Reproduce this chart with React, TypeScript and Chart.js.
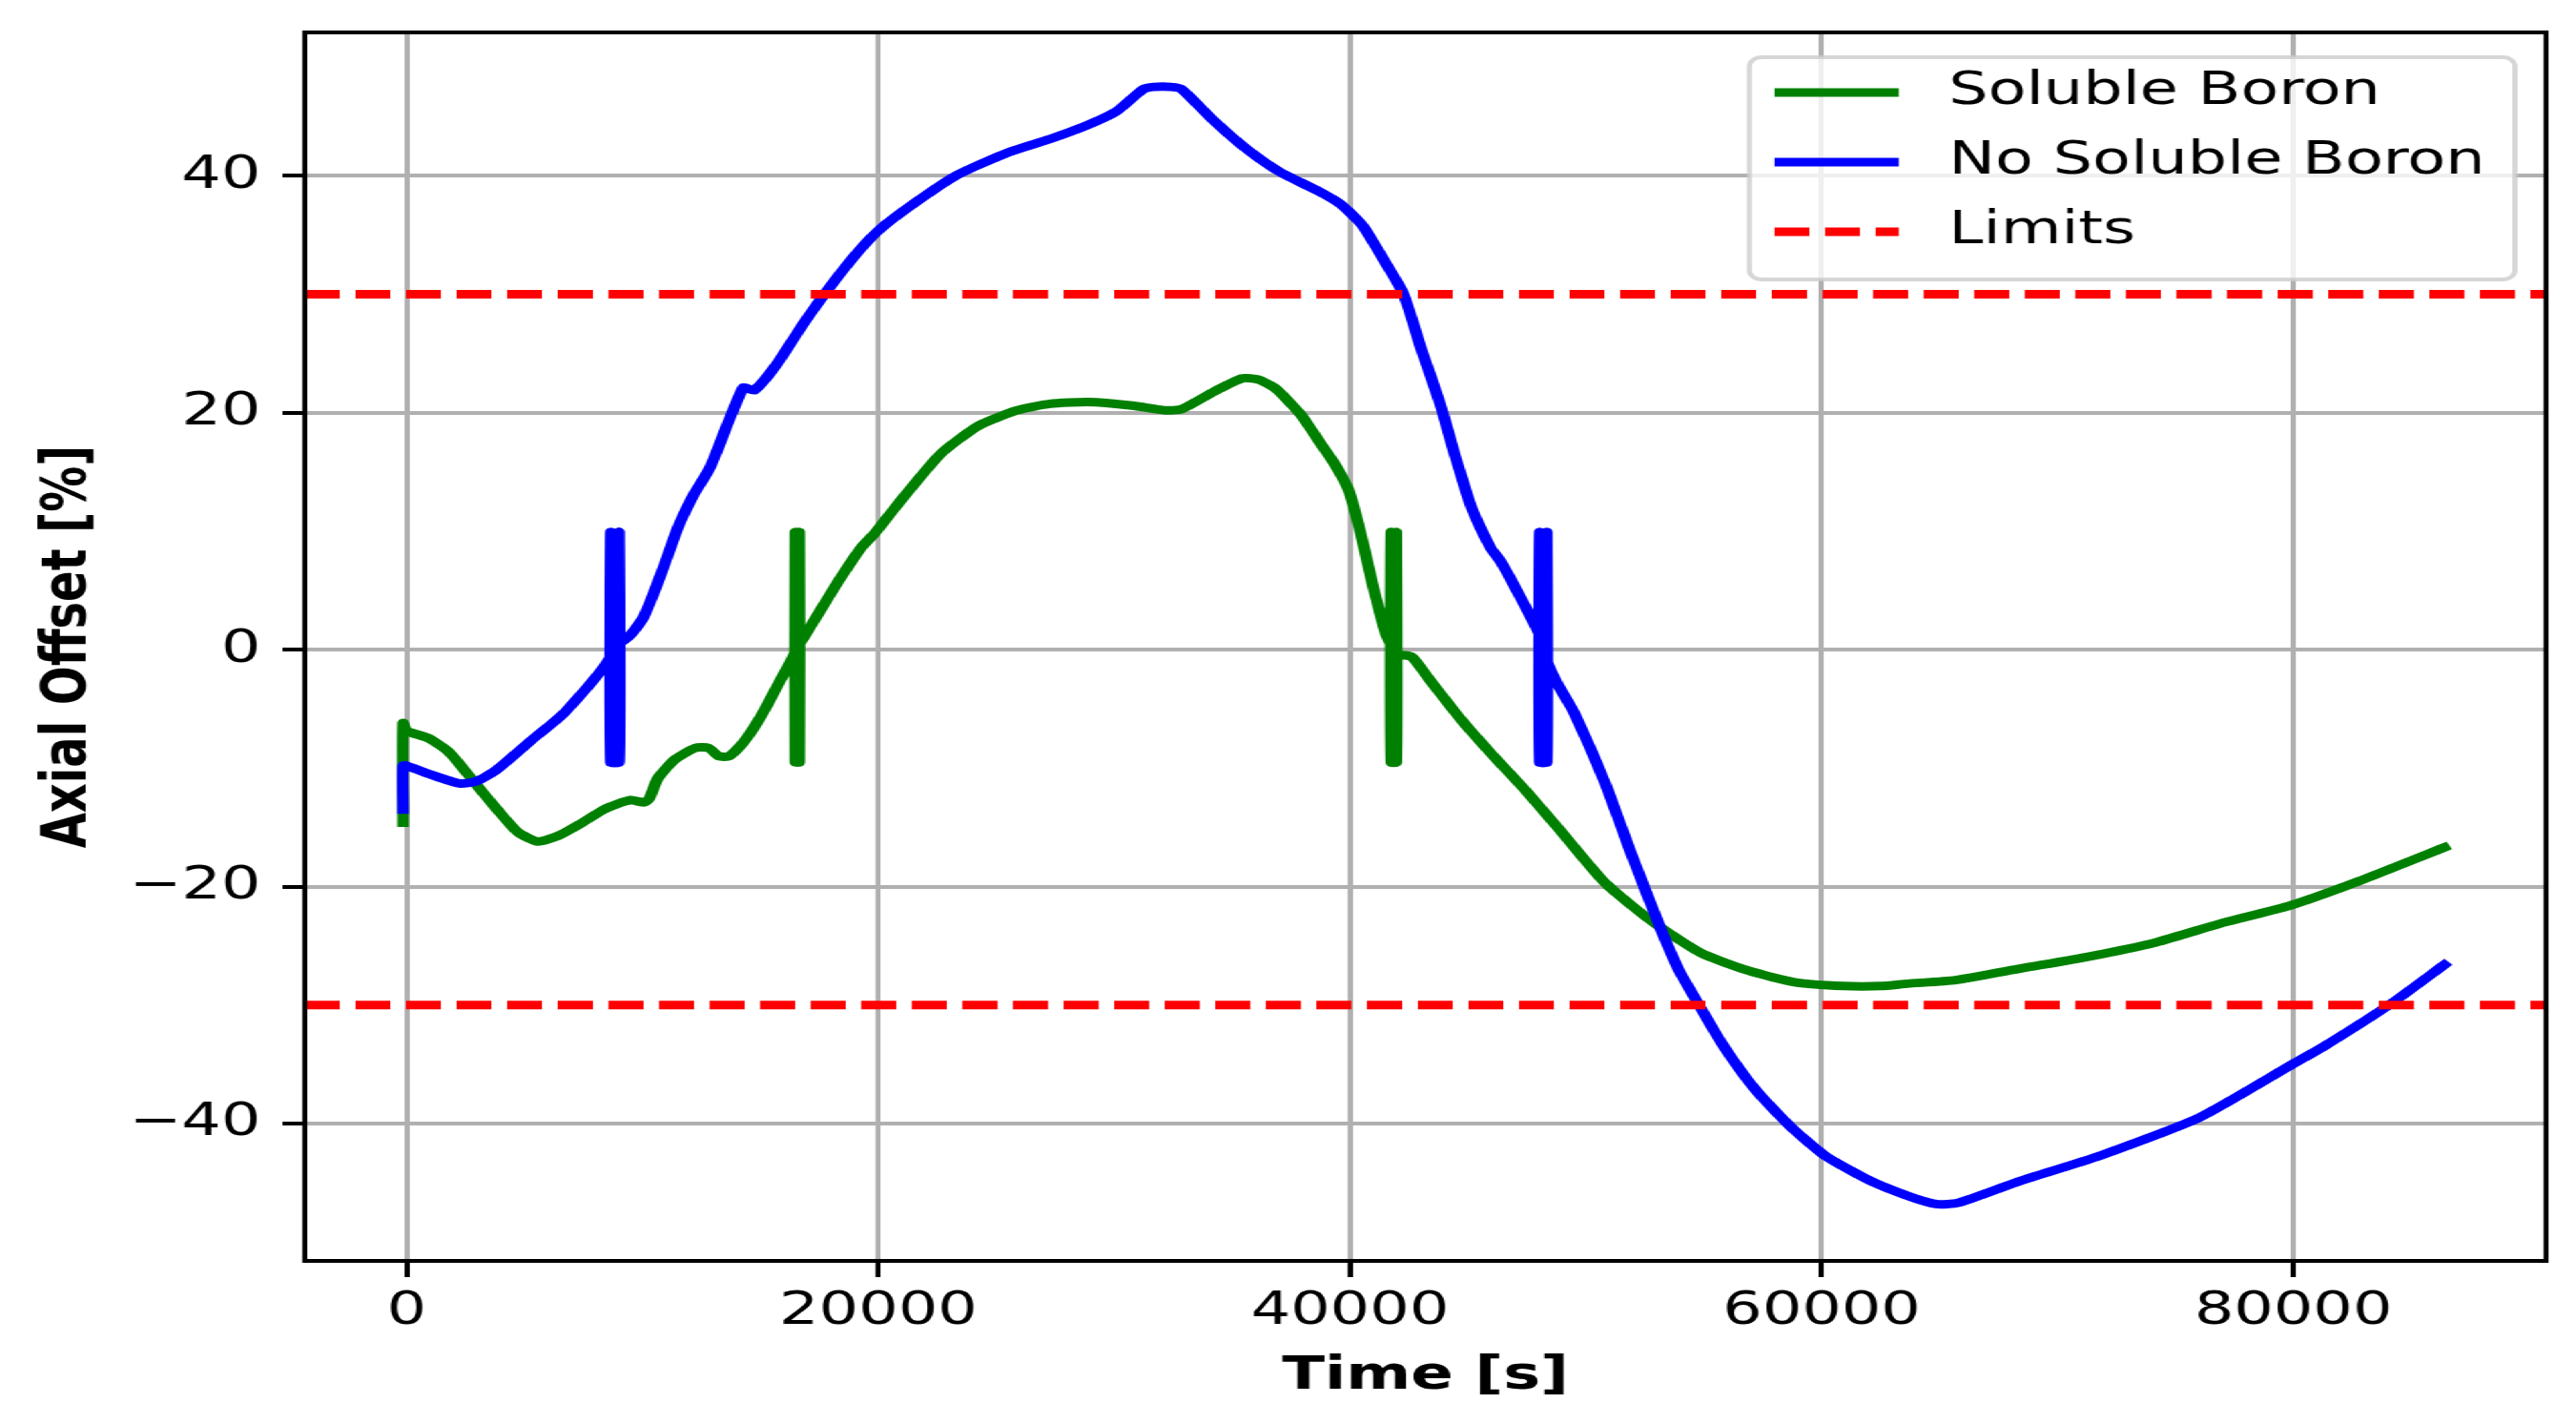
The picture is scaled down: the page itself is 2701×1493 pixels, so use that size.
import React, { useEffect, useRef } from "react";
import { Chart, registerables } from "chart.js";

Chart.register(...registerables);

// ---------------- data ----------------
const seriesLabels = ["Soluble Boron", "No Soluble Boron", "Limits"];

const solubleX = [
  -150, -150, 0, 950, 1820, 2830, 3840, 4710, 5570, 6440, 7450, 8460, 9470, 10060, 10280, 10640,
  11360, 12230, 12800, 13240, 13670, 14250, 14970, 15840, 16490, 16480, 16480, 16640, 16640, 16640,
  17290, 18300, 19310, 19840, 21000, 22630, 24250, 25890, 27280, 28900, 30770, 32160, 32860, 34250,
  35420, 36110, 36800, 37330, 37970, 38680, 39370, 39950, 40430, 40970, 41510, 41850, 41740, 41740,
  41960, 41960, 41960, 42610, 43400, 44750, 46000, 47450, 48800, 50820, 52850, 54870, 56890, 58920,
  60940, 62500, 63640, 65670, 68500, 71350, 74190, 77030, 79870, 82710, 86400,
];
const solubleY = [
  -14.6, -6.2, -6.85, -7.5, -8.7, -11.1, -13.5, -15.4, -16.2, -15.7, -14.6, -13.4, -12.7, -12.9, -12.6, -10.9,
  -9.3, -8.3, -8.3, -9.0, -9.0, -7.9, -5.8, -2.6, 0, 9.9, -9.5, -9.5, 9.9, 0.6,
  2.5, 5.75, 8.7, 9.8, 12.7, 16.5, 18.9, 20.2, 20.75, 20.9, 20.6, 20.2, 20.3, 21.8,
  22.9, 22.8, 22.1, 21.1, 19.7, 17.6, 15.6, 13.4, 10.0, 5.4, 1.4, 0.15, 9.9, -9.5,
  -9.5, 9.9, -0.3, -0.6, -2.6, -6.0, -8.8, -11.9, -15.0, -19.7, -23.0, -25.6, -27.1, -28.1,
  -28.4, -28.4, -28.2, -27.9, -26.9, -25.9, -24.7, -23.05, -21.6, -19.6, -16.7,
];

const noSolubleX = [
  -150, -150, 0, 950, 2250, 2970, 3840, 5290, 6730, 8760, 8660, 8660, 9000, 9000, 9000,
  9470, 10060, 10770, 11500, 12150, 12870, 14270, 14740, 15660, 16820, 17980, 19150, 20080, 21470,
  23330, 25420, 27280, 28900, 30070, 31230, 31700, 32390, 32860, 34250, 35650, 37040, 38660, 39600,
  40530, 41460, 42270, 43000, 43810, 44480, 45150, 45960, 46370, 47040, 48000, 48190, 48040, 48040,
  48340, 48340, 48340, 48800, 49470, 50820, 51900, 53120, 53930, 54740, 55820, 57170, 58650, 60130,
  62020, 63640, 64850, 65780, 68340, 71830, 76010, 79960, 81290, 84130, 86400,
];
const noSolubleY = [
  -13.5, -9.8, -9.8, -10.5, -11.3, -11.1, -10.1, -7.65, -5.24, -0.1, 9.9, -9.5, -9.5, 9.9, 0.6,
  1.2, 2.8, 6.3, 10.3, 13.0, 15.4, 22.1, 21.9, 24.0, 27.5, 30.7, 33.6, 35.5, 37.6,
  40.05, 41.9, 43.1, 44.3, 45.4, 47.3, 47.5, 47.5, 47.3, 44.6, 42.2, 40.3, 38.7, 37.6,
  35.8, 32.8, 30.0, 25.5, 20.8, 16.2, 12.0, 8.6, 7.5, 5.1, 1.4, 0, 9.9, -9.5,
  -9.5, 9.9, -0.8, -2.9, -5.2, -11.3, -17.1, -23.3, -27.0, -29.8, -33.4, -37.1, -40.2, -42.7,
  -44.8, -46.1, -46.8, -46.7, -44.9, -42.7, -39.5, -35.0, -33.5, -29.9, -26.6,
];

const limitX = [-4320, 90720, 90720, -4320, 90720];
const limitY: (number | null)[] = [30, 30, null, -30, -30];

const xRange = [-4320, 90720];
const yRange = [-51.6, 52.1];
const xTicks = [0, 20000, 40000, 60000, 80000];
const yTicks = [-40, -20, 0, 20, 40];

const xTitle = "Time [s]";
const yTitle = "Axial Offset [%]";

// ---------------- layout / style ----------------
const PAGE_W = 2701;
const PAGE_H = 1493;
const STRETCH = 1.36;
const CANVAS_W = Math.round(PAGE_W / STRETCH);
const FONT = "'DejaVu Sans', 'Liberation Sans', sans-serif";
const FS = 48;
const LW = 9;

const toPoints = (xs: number[], ys: (number | null)[]) => xs.map((x, i) => ({ x, y: ys[i] }));

const framePlugin = {
  id: "mplFrame",
  afterDatasetsDraw(chart: any) {
    const { ctx, chartArea } = chart;
    ctx.save();
    ctx.strokeStyle = "#000";
    ctx.lineWidth = 4;
    ctx.strokeRect(chartArea.left, chartArea.top, chartArea.right - chartArea.left, chartArea.bottom - chartArea.top);
    ctx.restore();
  },
};

const legendPlugin = {
  id: "mplLegend",
  afterDraw(chart: any) {
    const { ctx, chartArea } = chart;
    const ds = chart.data.datasets;
    ctx.save();
    ctx.font = `${FS}px ${FONT}`;
    const textW = Math.max(...ds.map((d: any) => ctx.measureText(d.label).width));
    const pad = 0.4 * FS;
    const handleLen = 2 * FS;
    const handlePad = 0.8 * FS;
    const rowStep = 73;
    const w = pad + handleLen + handlePad + textW + pad + 4;
    const h = 233;
    const right = chartArea.right - 24;
    const top = chartArea.top + 26;
    const left = right - w;
    ctx.beginPath();
    ctx.roundRect(left, top, w, h, 0.2 * FS);
    ctx.fillStyle = "rgba(255,255,255,0.8)";
    ctx.fill();
    ctx.lineWidth = 4;
    ctx.strokeStyle = "rgba(204,204,204,0.8)";
    ctx.stroke();
    ds.forEach((d: any, i: number) => {
      const y = top + 37 + i * rowStep;
      ctx.beginPath();
      ctx.setLineDash(d.borderDash || []);
      ctx.strokeStyle = d.borderColor;
      ctx.lineWidth = d.borderWidth;
      ctx.lineCap = "butt";
      ctx.moveTo(left + pad, y);
      ctx.lineTo(left + pad + handleLen, y);
      ctx.stroke();
      ctx.setLineDash([]);
      ctx.fillStyle = "#000";
      ctx.textBaseline = "middle";
      ctx.textAlign = "left";
      ctx.fillText(d.label, left + pad + handleLen + handlePad, y);
    });
    ctx.restore();
  },
};

const zeroPadding = (scale: any) => {
  scale.paddingTop = 0;
  scale.paddingBottom = 0;
  scale.paddingLeft = 0;
  scale.paddingRight = 0;
};

export default function App() {
  const ref = useRef<HTMLCanvasElement | null>(null);

  useEffect(() => {
    if (!ref.current) return;
    const lineStyle = {
      borderWidth: LW,
      pointRadius: 0,
      tension: 0.2,
      borderJoinStyle: "round",
      borderCapStyle: "square",
    };
    const chart = new Chart(ref.current, {
      type: "line",
      data: {
        datasets: [
          {
            ...lineStyle,
            label: seriesLabels[0],
            data: toPoints(solubleX, solubleY),
            borderColor: "#008000",
            backgroundColor: "#008000",
            order: 2,
          },
          {
            ...lineStyle,
            label: seriesLabels[1],
            data: toPoints(noSolubleX, noSolubleY),
            borderColor: "#0000ff",
            backgroundColor: "#0000ff",
            order: 1,
          },
          {
            label: seriesLabels[2],
            data: toPoints(limitX, limitY),
            borderColor: "#ff0000",
            backgroundColor: "#ff0000",
            borderWidth: LW,
            borderDash: [27, 12],
            borderCapStyle: "butt",
            pointRadius: 0,
            tension: 0,
            spanGaps: false,
            order: 0,
          },
        ] as any,
      },
      options: {
        animation: false,
        responsive: true,
        maintainAspectRatio: false,
        events: [],
        layout: { padding: { top: 34, right: CANVAS_W - 1963, bottom: 0, left: 0 } },
        plugins: {
          legend: { display: false },
          tooltip: { enabled: false },
        },
        scales: {
          x: {
            type: "linear",
            min: xRange[0],
            max: xRange[1],
            afterBuildTicks: (scale: any) => {
              scale.ticks = xTicks.map((v) => ({ value: v }));
            },
            afterFit: (scale: any) => {
              scale.height = PAGE_H - 1322;
              zeroPadding(scale);
            },
            grid: {
              color: "#b0b0b0",
              lineWidth: 4,
              drawTicks: true,
              tickLength: 17,
              tickColor: "#000",
              tickWidth: 4,
            },
            border: { display: false },
            ticks: {
              color: "#000",
              font: { family: FONT, size: FS },
              padding: 8,
              maxRotation: 0,
              autoSkip: false,
              callback: (v: any) => String(v).replace("-", "\u2212"),
            },
            title: {
              display: true,
              text: xTitle,
              color: "#000",
              font: { family: FONT, size: FS, weight: "bold" },
              padding: { top: 0, bottom: 21 },
            },
          },
          y: {
            type: "linear",
            min: yRange[0],
            max: yRange[1],
            afterBuildTicks: (scale: any) => {
              scale.ticks = yTicks.map((v) => ({ value: v }));
            },
            afterFit: (scale: any) => {
              scale.width = 235;
              zeroPadding(scale);
            },
            grid: {
              color: "#b0b0b0",
              lineWidth: 4,
              drawTicks: true,
              tickLength: 17,
              tickColor: "#000",
              tickWidth: 4,
            },
            border: { display: false },
            ticks: {
              color: "#000",
              font: { family: FONT, size: FS },
              padding: 17,
              autoSkip: false,
              callback: (v: any) => String(v).replace("-", "\u2212"),
            },
            title: {
              display: true,
              text: yTitle,
              color: "#000",
              font: { family: FONT, size: FS, weight: "bold" },
              padding: { top: 25, bottom: 0 },
            },
          },
        },
      } as any,
      plugins: [framePlugin, legendPlugin],
    });
    return () => chart.destroy();
  }, []);

  return (
    <div
      style={{
        position: "fixed",
        left: 0,
        top: 0,
        width: CANVAS_W,
        height: PAGE_H,
        transform: `scaleX(${PAGE_W / CANVAS_W})`,
        transformOrigin: "0 0",
        background: "#fff",
      }}
    >
      <canvas ref={ref} />
    </div>
  );
}
